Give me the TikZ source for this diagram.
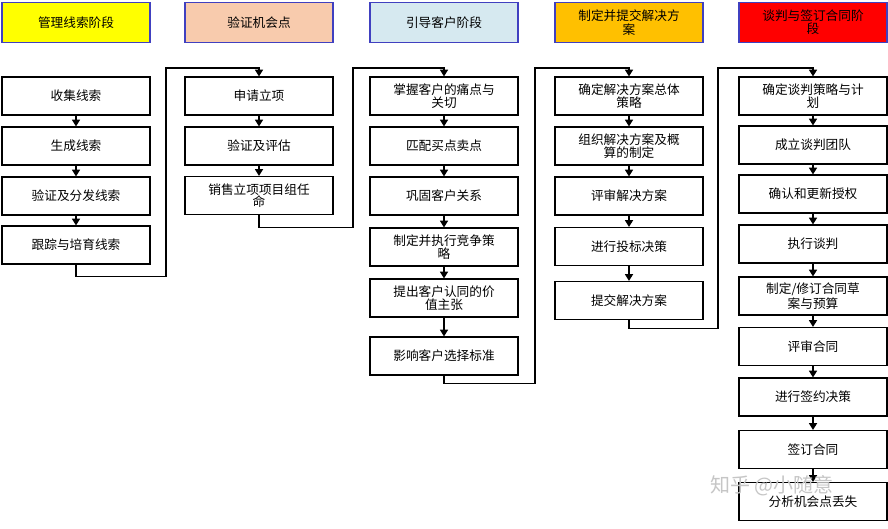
\documentclass[tikz,border=0pt]{standalone}
\usepackage{fontspec}
\setmainfont{Noto Sans CJK SC}
\usetikzlibrary{arrows.meta}
\definecolor{hyel}{HTML}{FFFF00}
\definecolor{hpea}{HTML}{F8CBAD}
\definecolor{hblu}{HTML}{D6E9F0}
\definecolor{hora}{HTML}{FFC000}
\definecolor{hred}{HTML}{FF0000}
\definecolor{hbor}{HTML}{4040C0}
\begin{document}
\begin{tikzpicture}[x=0.75pt,y=-0.75pt,
  hdr/.style={draw=hbor,line width=1.2pt,minimum width=111pt,minimum height=30pt,inner sep=1pt,font=\fontsize{9.5}{10}\selectfont,align=center},
  bx/.style={draw=black,line width=0.9pt,fill=white,minimum width=111pt,minimum height=28.5pt,inner sep=1pt,font=\fontsize{9.5}{9.5}\selectfont,align=center},
  ln/.style={draw=black,line width=0.9pt},
  ar/.style={ln,-{Triangle[length=5pt,width=6pt]}}]
\useasboundingbox (0,0) rectangle (888,528);
\fill[white] (0,0) rectangle (888,528);
% headers
\node[hdr,fill=hyel] (h1) at (76,22.5) {管理线索阶段};
\node[hdr,fill=hpea] (h2) at (259,22.5) {验证机会点};
\node[hdr,fill=hblu] (h3) at (444,22.5) {引导客户阶段};
\node[hdr,fill=hora] (h4) at (629,22.5) {制定并提交解决方\\案};
\node[hdr,fill=hred] (h5) at (813,22.5) {谈判与签订合同阶\\段};
% column 1
\node[bx] (a1) at (76,96) {收集线索};
\node[bx] (a2) at (76,146) {生成线索};
\node[bx] (a3) at (76,196) {验证及分发线索};
\node[bx] (a4) at (76,245) {跟踪与培育线索};
% column 2
\node[bx] (b1) at (259,96) {申请立项};
\node[bx] (b2) at (259,146) {验证及评估};
\node[bx] (b3) at (259,195.5) {销售立项项目组任\\命};
% column 3
\node[bx] (c1) at (444,96) {掌握客户的痛点与\\关切};
\node[bx] (c2) at (444,146) {匹配买点卖点};
\node[bx] (c3) at (444,196) {巩固客户关系};
\node[bx] (c4) at (444,247) {制定并执行竞争策\\略};
\node[bx] (c5) at (444,298) {提出客户认同的价\\值主张};
\node[bx] (c6) at (444,356) {影响客户选择标准};
% column 4
\node[bx] (d1) at (629,96) {确定解决方案总体\\策略};
\node[bx] (d2) at (629,146) {组织解决方案及概\\算的制定};
\node[bx] (d3) at (629,196) {评审解决方案};
\node[bx] (d4) at (629,246.5) {进行投标决策};
\node[bx] (d5) at (629,300.5) {提交解决方案};
% column 5
\node[bx] (e1) at (813,96) {确定谈判策略与计\\划};
\node[bx] (e2) at (813,145) {成立谈判团队};
\node[bx] (e3) at (813,194) {确认和更新授权};
\node[bx] (e4) at (813,244) {执行谈判};
\node[bx] (e5) at (813,296) {制定/修订合同草\\案与预算};
\node[bx] (e6) at (813,346.5) {评审合同};
\node[bx] (e7) at (813,397) {进行签约决策};
\node[bx] (e8) at (813,449.5) {签订合同};
\node[bx] (e9) at (813,501.5) {分析机会点丢失};
% arrows within columns
\foreach \p/\q in {a1/a2,a2/a3,a3/a4,b1/b2,b2/b3,c1/c2,c2/c3,c3/c4,c4/c5,c5/c6,d1/d2,d2/d3,d3/d4,d4/d5,e1/e2,e2/e3,e3/e4,e4/e5,e5/e6,e6/e7,e7/e8,e8/e9}
  \draw[ar] (\p.south) -- (\q.north);
% column connectors
\draw[ar] (a4.south) -- ++(0,12) -| (166,68) -| (b1.north);
\draw[ar] (b3.south) -- ++(0,12) -| (353,68) -| (c1.north);
\draw[ar] (c6.south) -- ++(0,8) -| (535,68) -| (d1.north);
\draw[ar] (d5.south) -- ++(0,8) -| (718,68) -| (e1.north);
% watermark
\node[text=gray!45,font=\fontsize{15}{15}\selectfont] (wm) at (772,486) {知乎 @小随意};
\end{tikzpicture}
\end{document}
